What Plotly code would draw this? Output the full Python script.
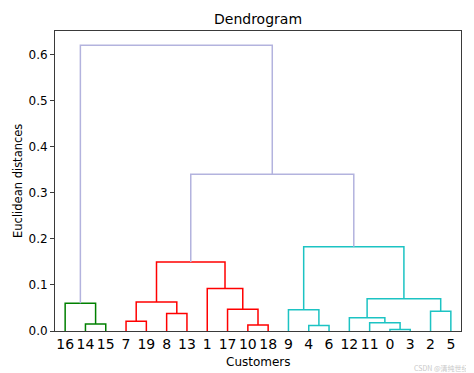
import plotly.graph_objects as go

# ---- data ----
leaf_order = [16, 14, 15, 7, 19, 8, 13, 1, 17, 10, 18, 9, 4, 6, 12, 11, 0, 3, 2, 5]
n_leaves = 20
# scipy-style linkage: ids < 20 are leaves, id 20+i is merge i
merge_left = [14, 16, 7, 8, 22, 10, 17, 1, 24, 4, 9, 0, 11, 12, 2, 33, 30, 28, 21]
merge_right = [15, 20, 19, 13, 23, 18, 25, 26, 27, 6, 29, 3, 31, 32, 5, 34, 35, 36, 37]
merge_height = [0.015, 0.060, 0.021, 0.038, 0.063, 0.013, 0.047, 0.092, 0.150,
                0.012, 0.046, 0.003, 0.018, 0.029, 0.043, 0.070, 0.183, 0.340, 0.620]
merge_color = ["g", "g", "r", "r", "r", "r", "r", "r", "r",
               "c", "c", "c", "c", "c", "c", "c", "c", "above", "above"]
yticks = [0.0, 0.1, 0.2, 0.3, 0.4, 0.5, 0.6]

color_map = {"g": "#008000", "r": "#ff0000", "c": "#1cc3c3", "above": "#b3b3de"}

# positions
xpos = {}
ypos = {}
for i, leaf in enumerate(leaf_order):
    xpos[leaf] = 5 + 10 * i
    ypos[leaf] = 0.0

fig = go.Figure()
for i in range(len(merge_left)):
    a, b, h = merge_left[i], merge_right[i], merge_height[i]
    xa, xb = xpos[a], xpos[b]
    xl, xr = (xa, xb) if xa <= xb else (xb, xa)
    yl, yr = (ypos[a], ypos[b]) if xa <= xb else (ypos[b], ypos[a])
    node = n_leaves + i
    xpos[node] = (xa + xb) / 2
    ypos[node] = h
    fig.add_trace(go.Scatter(
        x=[xl, xl, xr, xr], y=[yl, h, h, yr], mode="lines",
        line=dict(color=color_map[merge_color[i]], width=1.5),
        hoverinfo="skip", showlegend=False))

font = "DejaVu Sans, sans-serif"
# page body has an 8px margin, so the figure is 8px smaller and shifted
fig.update_layout(
    width=466, height=365,
    margin=dict(l=47, r=13, t=23, b=42, autoexpand=False),
    plot_bgcolor="white", paper_bgcolor="white",
    font=dict(family=font, color="black"),
    xaxis=dict(range=[0, 200], tickmode="array",
               tickvals=[5 + 10 * i for i in range(n_leaves)],
               ticktext=[str(v) for v in leaf_order],
               tickfont=dict(size=14), ticks="", showgrid=False, zeroline=False,
               showline=True, mirror=True, linecolor="#3a3a3a", linewidth=1,
               automargin=False),
    yaxis=dict(range=[0, 0.651], tickmode="array", tickvals=yticks,
               ticktext=[f"{v:.1f}" for v in yticks],
               tickfont=dict(size=12), ticks="outside", ticklen=4, tickcolor="#3a3a3a",
               showgrid=False, zeroline=False,
               showline=True, mirror=True, linecolor="#3a3a3a", linewidth=1,
               automargin=False),
)
fig.add_annotation(text="Dendrogram", xref="paper", yref="paper", x=0.5, y=1,
                   xanchor="center", yanchor="bottom", yshift=2, showarrow=False,
                   font=dict(size=14, family=font, color="black"))
fig.add_annotation(text="Customers", xref="paper", yref="paper", x=0.5, y=0,
                   xanchor="center", yanchor="top", yshift=-22, showarrow=False,
                   font=dict(size=12, family=font, color="black"))
fig.add_annotation(text="Euclidean distances", xref="paper", yref="paper", x=0, y=0.5,
                   xanchor="right", yanchor="middle", xshift=-28, textangle=-90,
                   showarrow=False, font=dict(size=11.5, family=font, color="black"))
fig.add_annotation(text="CSDN @清纯世纪", xref="paper", yref="paper",
                   x=1.025, y=-0.1, xanchor="right", yanchor="top", showarrow=False,
                   font=dict(size=7, color="#c8c8c8", family="Noto Sans CJK SC"))

fig.write_html("out.html")
